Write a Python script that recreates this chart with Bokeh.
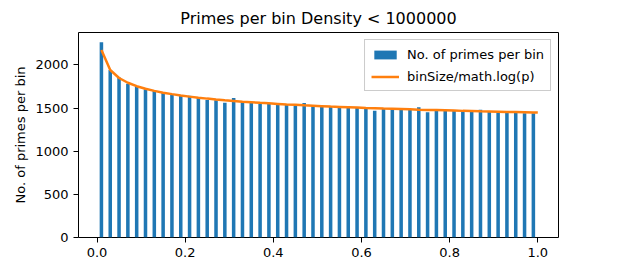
from bokeh.plotting import figure
from bokeh.models import FixedTicker, Legend, LegendItem, NumeralTickFormatter, ColumnDataSource
from bokeh.embed import file_html
from bokeh.resources import INLINE

# --- data (x in units of 1e6) ---
bin_centers = [0.01, 0.03, 0.05, 0.07, 0.09, 0.11, 0.13, 0.15, 0.17, 0.19,
               0.21, 0.23, 0.25, 0.27, 0.29, 0.31, 0.33, 0.35, 0.37, 0.39,
               0.41, 0.43, 0.45, 0.47, 0.49, 0.51, 0.53, 0.55, 0.57, 0.59,
               0.61, 0.63, 0.65, 0.67, 0.69, 0.71, 0.73, 0.75, 0.77, 0.79,
               0.81, 0.83, 0.85, 0.87, 0.89, 0.91, 0.93, 0.95, 0.97, 0.99]
primes_per_bin = [2262, 1941, 1854, 1780, 1755, 1718, 1697, 1678, 1659, 1640,
                  1642, 1627, 1592, 1590, 1562, 1616, 1581, 1566, 1547, 1553,
                  1534, 1538, 1527, 1557, 1522, 1521, 1518, 1510, 1510, 1501,
                  1506, 1468, 1494, 1490, 1487, 1482, 1510, 1451, 1490, 1475,
                  1465, 1465, 1457, 1479, 1457, 1451, 1447, 1446, 1440, 1440]
line_x = bin_centers + [1.0]
line_y = [2172, 1940, 1848, 1793, 1753, 1723, 1699, 1678, 1661, 1645,
          1632, 1620, 1609, 1599, 1590, 1582, 1574, 1567, 1560, 1554,
          1548, 1542, 1537, 1531, 1527, 1522, 1517, 1513, 1509, 1505,
          1501, 1498, 1494, 1491, 1488, 1485, 1481, 1478, 1476, 1473,
          1470, 1467, 1465, 1462, 1460, 1458, 1455, 1453, 1451, 1449, 1448]
x_ticks = [0.0, 0.2, 0.4, 0.6, 0.8, 1.0]
y_ticks = [0, 500, 1000, 1500, 2000]

FONT = "DejaVu Sans"

p = figure(width=620, height=265, output_backend="svg", toolbar_location=None,
           x_range=(-0.042, 1.047), y_range=(0, 2375),
           min_border_left=78, min_border_right=62, min_border_top=32, min_border_bottom=28,
           title="Primes per bin Density < 1000000")
p.title.text_font = FONT
p.title.text_font_size = "16px"
p.title.text_font_style = "normal"
p.title.text_color = "black"
p.title.align = "center"
p.title.standoff = 9

bars_src = ColumnDataSource(dict(x=bin_centers, top=primes_per_bin))
line_src = ColumnDataSource(dict(x=line_x, y=line_y))
bars = p.vbar(x="x", top="top", width=0.008, bottom=0, source=bars_src,
              fill_color="#1f77b4", line_color=None)
ln = p.line(x="x", y="y", source=line_src, line_color="#ff7f0e", line_width=2.5)

p.grid.visible = False
p.outline_line_color = "black"
p.outline_line_alpha = 1
p.outline_line_width = 1

for ax in (p.xaxis[0], p.yaxis[0]):
    ax.axis_line_color = None
    ax.major_tick_line_color = "black"
    ax.major_tick_out = 5
    ax.major_tick_in = 0
    ax.minor_tick_line_color = None
    ax.major_label_text_font = FONT
    ax.major_label_text_font_size = "13px"
    ax.major_label_text_color = "black"
    ax.major_label_standoff = 5

p.xaxis.ticker = FixedTicker(ticks=x_ticks)
p.xaxis.formatter = NumeralTickFormatter(format="0.0")
p.yaxis.ticker = FixedTicker(ticks=y_ticks)
p.yaxis.axis_label = "No. of primes per bin"
p.yaxis.axis_label_text_font = FONT
p.yaxis.axis_label_text_font_size = "13px"
p.yaxis.axis_label_text_font_style = "normal"
p.yaxis.axis_label_text_color = "black"
p.yaxis.axis_label_standoff = 4

legend = Legend(items=[LegendItem(label="No. of primes per bin", renderers=[bars]),
                       LegendItem(label="binSize/math.log(p)", renderers=[ln])],
                location="top_right")
legend.label_text_font = FONT
legend.label_text_font_size = "13px"
legend.label_text_color = "black"
legend.glyph_width = 28
legend.glyph_height = 11
legend.label_height = 16
legend.spacing = 6
legend.padding = 6
legend.margin = 7
legend.label_standoff = 8
legend.border_line_color = "#cccccc"
legend.border_line_alpha = 1
legend.background_fill_alpha = 0.8
p.add_layout(legend)

open("out.html", "w").write(file_html(p, INLINE))
